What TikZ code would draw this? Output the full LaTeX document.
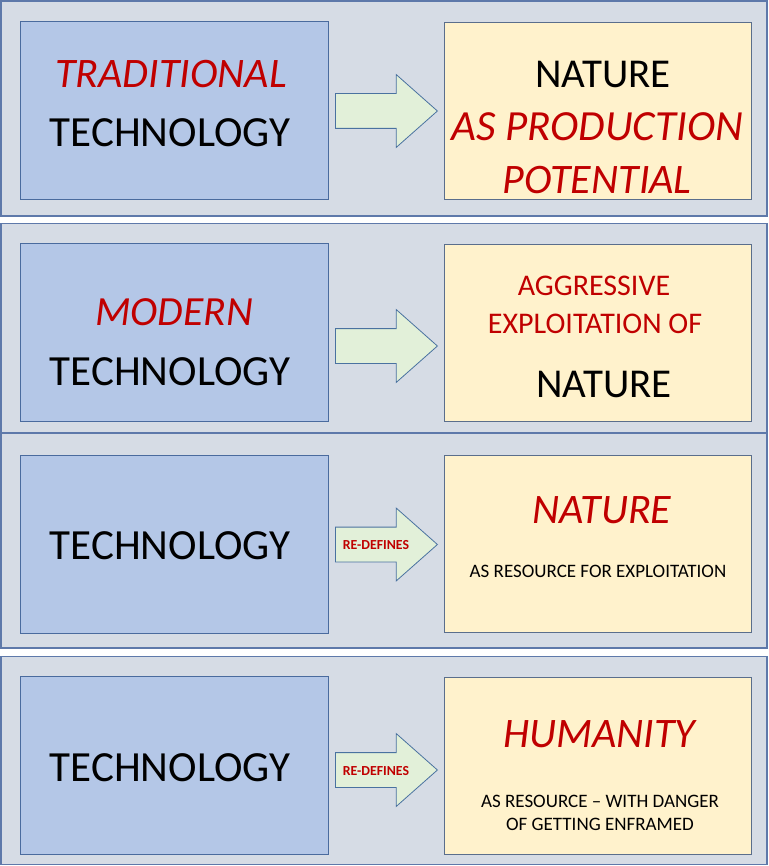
\documentclass[tikz,border=0pt]{standalone}
\usepackage{fontspec}
\setmainfont{Carlito}
\usetikzlibrary{shapes.arrows}
\definecolor{panelfill}{HTML}{D6DCE5}
\definecolor{paneldraw}{HTML}{5E79AA}
\definecolor{leftfill}{HTML}{B4C7E7}
\definecolor{leftdraw}{HTML}{4A6B9E}
\definecolor{rightfill}{HTML}{FFF2CC}
\definecolor{rightdraw}{HTML}{5A6E8C}
\definecolor{arrowfill}{HTML}{E2F0D9}
\definecolor{arrowdraw}{HTML}{4A72A0}
\definecolor{darkred}{HTML}{C00000}
\tikzset{
  panel/.style={draw=paneldraw, fill=panelfill, line width=1.2pt, rectangle, inner sep=0pt, minimum width=766pt},
  leftbox/.style={draw=leftdraw, fill=leftfill, line width=0.9pt, rectangle, inner sep=0pt, minimum width=308pt, minimum height=178pt},
  rightbox/.style={draw=rightdraw, fill=rightfill, line width=0.9pt, rectangle, inner sep=0pt, minimum width=307pt, minimum height=177pt},
  bigarrow/.style={single arrow, draw=arrowdraw, fill=arrowfill, line width=0.8pt, anchor=tail,
    minimum height=102pt, minimum width=0pt, text height=0pt, text depth=0pt, text width=0pt,
    inner xsep=0pt, inner ysep=17pt, single arrow head extend=19pt, single arrow tip angle=83, single arrow head indent=0pt},
  big/.style={anchor=base, inner sep=0pt, font=\fontsize{43}{50}\selectfont},
  bigred/.style={anchor=base, inner sep=0pt, text=darkred, font=\fontsize{42}{50}\selectfont\itshape},
  midred/.style={anchor=base, inner sep=0pt, text=darkred, font=\fontsize{30}{36}\selectfont},
  small/.style={anchor=base, inner sep=0pt, font=\fontsize{19}{23}\selectfont},
  arrowlabel/.style={anchor=base, inner sep=0pt, text=darkred, font=\fontsize{13.8}{16}\selectfont\bfseries},
}
\begin{document}
\begin{tikzpicture}[x=1pt, y=-1pt]
\useasboundingbox (0,0) rectangle (768,866);
% panels
\node[panel, minimum height=215pt] (P1) at (384,108.5) {};
\node[panel, minimum height=209pt] (P2) at (384,328) {};
\node[panel, minimum height=215pt] (P3) at (384,540.5) {};
\node[panel, minimum height=208pt] (P4) at (384,760.5) {};
% panel 1
\node[leftbox] (L1) at (174,110) {};
\node[rightbox] (R1) at (597.5,110.5) {};
\node[bigarrow] (A1) at (335,111) {};
\node[bigred] (t1a) at (171,88) {TRADITIONAL};
\node[big] (t1b) at (170,147) {TECHNOLOGY};
\node[big, font=\fontsize{41}{50}\selectfont] (r1a) at (603,88) {NATURE};
\node[bigred, font=\fontsize{43}{50}\selectfont\itshape] (r1b) at (597,141) {AS PRODUCTION};
\node[bigred, font=\fontsize{42}{50}\selectfont\itshape] (r1c) at (597,194) {POTENTIAL};
% panel 2
\node[leftbox] (L2) at (174,332.5) {};
\node[rightbox] (R2) at (597.5,332.5) {};
\node[bigarrow] (A2) at (335,346) {};
\node[bigred, font=\fontsize{41.5}{50}\selectfont\itshape] (t2a) at (174,325) {MODERN};
\node[big] (t2b) at (170,385) {TECHNOLOGY};
\node[midred] (r2a) at (594,295) {AGGRESSIVE};
\node[midred] (r2b) at (595,333) {EXPLOITATION OF};
\node[big, font=\fontsize{41}{50}\selectfont] (r2c) at (604,397) {NATURE};
% panel 3
\node[leftbox] (L3) at (174,544) {};
\node[rightbox] (R3) at (597.5,544) {};
\node[bigarrow] (A3) at (335,544.5) {};
\node[arrowlabel] (a3) at (376,549) {RE-DEFINES};
\node[big] (t3) at (170,559) {TECHNOLOGY};
\node[bigred] (r3a) at (602,523) {NATURE};
\node[small] (r3b) at (598,577) {AS RESOURCE FOR EXPLOITATION};
% panel 4
\node[leftbox] (L4) at (174,765) {};
\node[rightbox] (R4) at (597.5,765.5) {};
\node[bigarrow] (A4) at (335,770) {};
\node[arrowlabel] (a4) at (376,775) {RE-DEFINES};
\node[big] (t4) at (170,781) {TECHNOLOGY};
\node[bigred] (r4a) at (599,747) {HUMANITY};
\node[small] (r4b) at (600,807) {AS RESOURCE -- WITH DANGER};
\node[small] (r4c) at (600,830) {OF GETTING ENFRAMED};
\end{tikzpicture}
\end{document}
